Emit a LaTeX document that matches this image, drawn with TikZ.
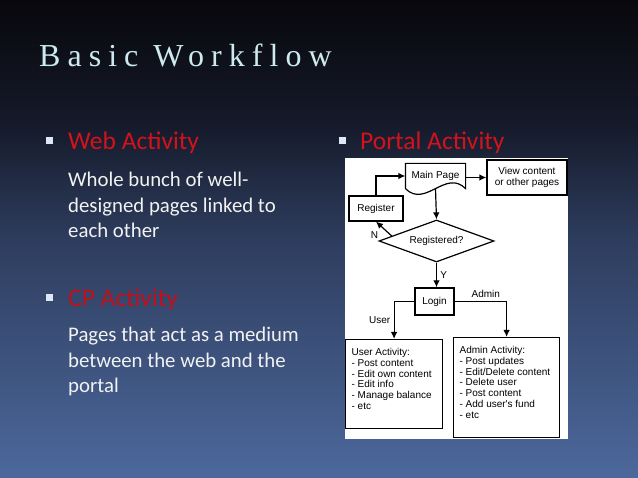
\documentclass[tikz,border=0pt]{standalone}
\usepackage{fontspec}
\setmainfont{Carlito}
\newfontfamily\titlefont[LetterSpace=22]{Liberation Serif}
\newfontfamily\chartfont{Liberation Sans}
\usetikzlibrary{shapes.geometric,calc,positioning,arrows.meta}
\definecolor{bgtop}{HTML}{08080C}
\definecolor{bgupper}{HTML}{151A2A}
\definecolor{bgmid}{HTML}{2E3D5E}
\definecolor{bgbot}{HTML}{4C689C}
\definecolor{titlec}{HTML}{CDEAF0}
\definecolor{slidered}{HTML}{D4121C}
\definecolor{cpred}{HTML}{C0101C}
\definecolor{bodytext}{HTML}{F2F2F2}
\definecolor{bulletc}{HTML}{DDE8F4}
\pgfdeclareverticalshading{slidebg}{100bp}{color(0bp)=(bgbot); color(25bp)=(bgbot); color(50bp)=(bgmid); color(62bp)=(bgupper); color(75bp)=(bgtop); color(100bp)=(bgtop)}
\newcommand{\bodylines}[1]{\parbox[t]{270pt}{\raggedright #1}}
\begin{document}
\begin{tikzpicture}[x=1pt,y=-1pt,
	chart/.style={font=\chartfont\fontsize{10}{10.7}\selectfont},
	fbox/.style={chart,draw,line width=1.2pt,fill=white,inner sep=2pt},
	flow/.style={line width=1.2pt,-{Latex[length=7pt,width=6.5pt]}},
	head/.style={font=\fontsize{25.5}{30}\selectfont,text=slidered,anchor=base west,inner sep=0},
	body/.style={font=\fontsize{20.8}{25.5}\selectfont,text=bodytext,anchor=base west,inner sep=0},
	bullet/.style={fill=bulletc,minimum size=7pt,inner sep=0}]
	\useasboundingbox (0,0) rectangle (638,478);
	\shade[shading=slidebg] (0,0) rectangle (638,478);

	\node[anchor=base west,inner sep=0,text=titlec,font=\titlefont\fontsize{32}{36}\selectfont] (title) at (39,67) {Basic Workflow};

	\node[bullet] (b1) at (49.5,141) {};
	\node[head] (web) at (68,150) {Web Activity};
	\node[body] (webtxt) at (68,187) {\bodylines{Whole bunch of well-\\designed pages linked to\\each other}};
	\node[bullet] (b2) at (49.5,298) {};
	\node[head,text=cpred] (cp) at (68,307) {CP Activity};
	\node[body] (cptxt) at (68,342) {\bodylines{Pages that act as a medium\\between the web and the\\portal}};
	\node[bullet] (b3) at (342,141) {};
	\node[head] (portal) at (360,150) {Portal Activity};

	\fill[white] (345,158) rectangle (568,439);
	\node[fbox,draw=none,fill=none,minimum width=59pt,minimum height=24pt] (mp) at (435.5,176) {Main Page};
	\draw[line width=1.2pt] (mp.south west) -- (mp.north west) -- (mp.north east) -- (mp.south east)
		.. controls +(-20,-20) and +(20,20) .. (mp.south west);
	\node[fbox,minimum width=80pt,minimum height=35pt,align=center] (vc) at (527,177.5) {View content\\or other pages};
	\node[fbox,minimum width=54pt,minimum height=25pt] (reg) at (376,208.5) {Register};
	\node[fbox,shape=diamond,aspect=2.7,minimum width=115pt,minimum height=42pt,inner sep=0] (dia) at (436.5,241) {Registered?};
	\node[fbox,minimum width=39pt,minimum height=27pt] (lg) at (434.5,301.5) {Login};
	\node[fbox,anchor=north west,inner xsep=6pt,inner ysep=9pt] (ua) at (345,339)
		{\parbox[t][71pt][t]{85pt}{\raggedright User Activity:\\- Post content\\- Edit own content\\- Edit info\\- Manage balance\\- etc}};
	\node[fbox,anchor=north west,inner xsep=6pt,inner ysep=9pt] (aa) at (453,337)
		{\parbox[t][82pt][t]{94pt}{\raggedright Admin Activity:\\- Post updates\\- Edit/Delete content\\- Delete user\\- Post content\\- Add user's fund\\- etc}};

	\draw[flow] (vc.west -| mp.east) -- (vc.west);
	\draw[flow] (reg.north) |- (mp.west);
	\draw[flow] (mp.south) -- (dia.north);
	\draw[flow] ($(dia.west)!0.23!(dia.north)$) -- (reg.south) node[pos=0.05,left=9pt,chart] {N};
	\draw[flow] (dia.south) -- (dia.south |- lg.north) node[midway,right,chart] {Y};
	\draw[flow] (lg.west) -| (ua.north) node[pos=0.75,left,chart] {User};
	\draw[flow] (lg.east) -| (aa.north) node[pos=0.3,above,chart] {Admin};
\end{tikzpicture}
\end{document}
